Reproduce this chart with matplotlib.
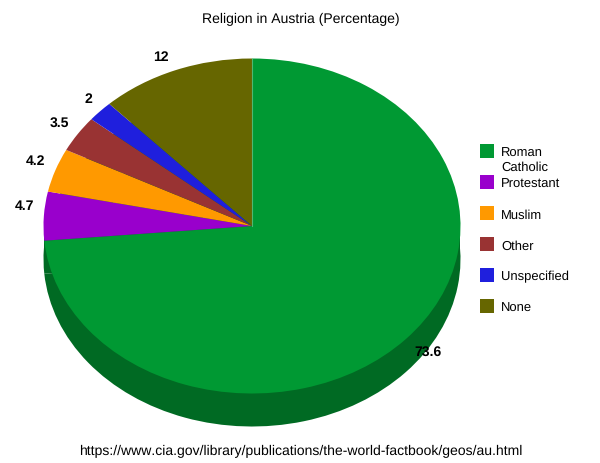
import matplotlib
matplotlib.use('Agg')
import matplotlib.pyplot as plt
from matplotlib.patches import Rectangle

# values clockwise from 12 o'clock
religions = ['Roman\nCatholic', 'Protestant', 'Muslim', 'Other', 'Unspecified', 'None']
percents = [73.6, 4.7, 4.2, 3.5, 2, 12]
colors = ['#009933', '#9900cc', '#ff9900', '#993333', '#1f1fdd', '#666600']
wall_color = '#006a23'

W, H = 600, 463
cx, cy = 252, 226
rx, ry = 208.5, 167.5
depth = 33

plt.rcParams['font.family'] = ['Liberation Sans', 'DejaVu Sans']
plt.rcParams['text.hinting'] = 'no_hinting'
plt.rcParams['text.hinting_factor'] = 1

fig = plt.figure(figsize=(W / 100, H / 100), dpi=100)


def pixel_axes(z):
    ax = fig.add_axes([0, 0, 1, 1], zorder=z)
    ax.set_xlim(0, W)
    ax.set_ylim(H, 0)
    ax.axis('off')
    ax.patch.set_alpha(0)
    return ax


def pie_axes(y_center, pie_colors, z):
    ax = fig.add_axes([(cx - rx) / W, 1 - (y_center + ry) / H, 2 * rx / W, 2 * ry / H], zorder=z)
    ax.pie(percents, colors=pie_colors, startangle=90, counterclock=False, radius=1,
           normalize=True, wedgeprops={'linewidth': 0})
    ax.set_aspect('auto')
    ax.set_xlim(-1, 1)
    ax.set_ylim(-1, 1)
    ax.axis('off')
    return ax


# side wall first, then the top face
pie_axes(cy + depth, [wall_color] * len(percents), 1)
wall = pixel_axes(2)
wall.add_patch(Rectangle((cx - rx + 0.4, cy), 2 * rx - 0.8, depth, color=wall_color, lw=0))
top = pie_axes(cy, colors, 3)
top.plot([0, 0], [0, 1], color='#4fb872', lw=0.8)

base = pixel_axes(4)
base.text(301, 19.5, 'Religion in Austria (Percentage)', ha='center', va='center', fontsize=10)
base.text(301, 451.5, 'https://www.cia.gov/library/publications/the-world-factbook/geos/au.html',
          ha='center', va='center', fontsize=10)

# data labels
label_pos = [(428, 352.5), (25, 206.5), (36, 161.5), (59, 123.5), (88, 99.5), (161, 57.5)]
for val, (x, y) in zip(percents, label_pos):
    base.text(x, y, str(val), ha='center', va='center', fontsize=10, fontweight='bold')

# legend
for i, (name, c) in enumerate(zip(religions, colors)):
    y = 144 + 31 * i
    base.add_patch(Rectangle((480, y), 14, 14, color=c, lw=0))
    base.text(501, y + 3, name, ha='left', va='top', fontsize=9.3, linespacing=1.2)

fig.savefig('out.png', dpi=100)
